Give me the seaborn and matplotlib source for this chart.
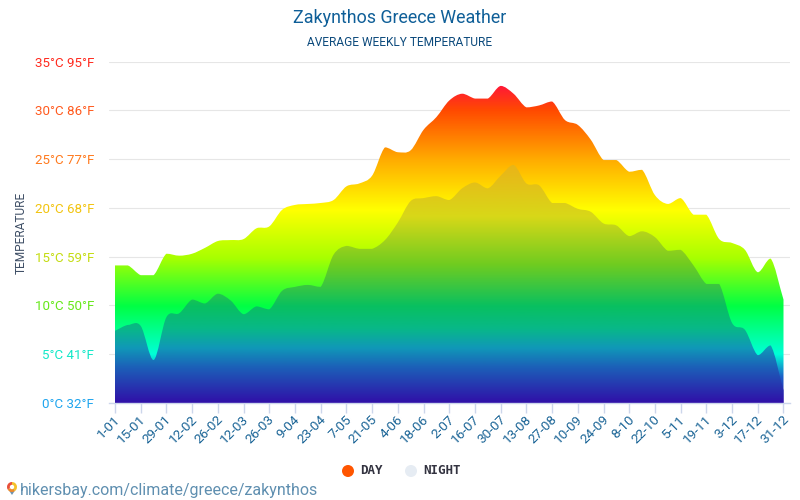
import numpy as np
import pandas as pd
import matplotlib
matplotlib.use("Agg")
import matplotlib.pyplot as plt
import seaborn as sns
from matplotlib.colors import LinearSegmentedColormap
from matplotlib.path import Path
from matplotlib.patches import PathPatch, Circle, Polygon, Wedge
from matplotlib.transforms import ScaledTranslation

tick_labels = ['1-01', '15-01', '29-01', '12-02', '26-02', '12-03', '26-03', '9-04', '23-04',
               '7-05', '21-05', '4-06', '18-06', '2-07', '16-07', '30-07', '13-08', '27-08',
               '10-09', '24-09', '8-10', '22-10', '5-11', '19-11', '3-12', '17-12', '31-12']
day_temp = [14.1, 14.1, 13.1, 13.1, 15.3, 15.1, 15.3, 15.9, 16.6, 16.7, 16.8, 17.9, 18.1,
            19.8, 20.3, 20.4, 20.5, 20.8, 22.2, 22.5, 23.3, 26.2, 25.7, 25.9, 28.0, 29.3,
            31.0, 31.7, 31.2, 31.2, 32.5, 31.7, 30.3, 30.5, 30.9, 29.0, 28.5, 27.0, 24.9,
            24.9, 23.7, 23.9, 21.3, 20.4, 21.0, 19.3, 19.3, 16.8, 16.4, 15.7, 13.4, 14.8, 10.6]
night_temp = [7.4, 8.0, 7.9, 4.4, 8.8, 9.2, 10.6, 10.2, 11.2, 10.5, 9.1, 9.9, 9.6,
              11.5, 11.9, 12.1, 11.9, 15.2, 16.1, 15.8, 15.8, 16.7, 18.5, 20.7, 21.0, 21.2,
              20.8, 22.0, 22.6, 22.0, 23.3, 24.4, 22.5, 22.3, 20.5, 20.5, 19.9, 19.6, 18.4,
              18.2, 17.1, 17.6, 17.0, 15.6, 15.7, 14.1, 12.2, 12.2, 8.2, 7.5, 4.9, 5.9, 1.3]
y_ticks = [0, 5, 10, 15, 20, 25, 30, 35]
y_labels = ['0°C 32°F', '5°C 41°F', '10°C 50°F', '15°C 59°F', '20°C 68°F', '25°C 77°F', '30°C 86°F', '35°C 95°F']
y_colors = ['#1fa5ee', '#12e8c8', '#66e81a', '#c4dc10', '#f2c410', '#ff7a1e', '#ff5a1e', '#ff2a1e']

day_colors = [(0.0, '#3010a8'), (0.08, '#1c60c8'), (0.15, '#00ffd8'), (0.30, '#00ff44'),
              (0.45, '#a8ff00'), (0.60, '#ffff00'), (0.76, '#ffaa00'), (0.91, '#ff4a00'), (1.0, '#ff1040')]
night_colors = [(0.0, '#3010a8'), (0.11, '#1c60b8'), (0.17, '#1098b8'), (0.23, '#08b888'), (0.30, '#08c060'),
                (0.43, '#70cc20'), (0.58, '#d8d818'), (0.72, '#e8b818'), (1.0, '#e8a018')]

sns.set_theme(style="white")
plt.rcParams['font.family'] = ['Roboto', 'DejaVu Sans']

df = pd.DataFrame({'week': np.arange(len(day_temp)), 'day': day_temp, 'night': night_temp})

fig = plt.figure(figsize=(8, 5), dpi=100)
ax = fig.add_axes([109 / 800, 1 - 403 / 500, 681 / 800, 341.5 / 500])

# seaborn draws the weekly points, the smooth area goes on top of them
sns.lineplot(data=df, x='week', y='day', ax=ax, lw=0, legend=False)
sns.lineplot(data=df, x='week', y='night', ax=ax, lw=0, legend=False)


def smooth_path(x, y):
    # bezier through the points, closed down to zero
    x = np.asarray(x, float)
    y = np.asarray(y, float)
    slope = np.gradient(y, x)
    verts = [(x[0], 0), (x[0], y[0])]
    codes = [Path.MOVETO, Path.LINETO]
    for i in range(len(x) - 1):
        h = (x[i + 1] - x[i]) / 3
        s = (y[i + 1] - y[i]) / (x[i + 1] - x[i])
        m0 = 0 if (i > 0 and slope[i] * s <= 0) else slope[i]
        m1 = 0 if (i < len(x) - 2 and slope[i + 1] * s <= 0) else slope[i + 1]
        verts += [(x[i] + h, y[i] + m0 * h), (x[i + 1] - h, y[i + 1] - m1 * h), (x[i + 1], y[i + 1])]
        codes += [Path.CURVE4] * 3
    verts += [(x[-1], 0), (x[0], 0)]
    codes += [Path.LINETO, Path.CLOSEPOLY]
    return Path(verts, codes)


def gradient_area(values, colors):
    cmap = LinearSegmentedColormap.from_list('temp', colors)
    top = 33
    grad = np.linspace(1, 0, 512).reshape(-1, 1)
    im = ax.imshow(grad, cmap=cmap, extent=(0, len(values) - 1, 0, top), aspect='auto', zorder=2, interpolation='bilinear')
    patch = PathPatch(smooth_path(df['week'], values), transform=ax.transData, fc='none', ec='none')
    ax.add_patch(patch)
    im.set_clip_path(patch)


gradient_area(df['day'], day_colors)
gradient_area(df['night'], night_colors)

# 12.85 px per week, plot area starts 6 px left of the first point
ax.set_xlim(-6 / 12.855, 52 + 6.5 / 12.855)
ax.set_ylim(0, 35)
ax.set_xlabel('')
ax.set_ylabel('')

for s in ['top', 'left', 'right']:
    ax.spines[s].set_visible(False)
ax.spines['bottom'].set_color('#ccd6eb')
ax.spines['bottom'].set_linewidth(1)
ax.set_axisbelow(True)
ax.yaxis.grid(True, color='#e6e6e6', lw=0.8)
ax.xaxis.grid(False)

ax.set_yticks(y_ticks)
ax.set_yticklabels(y_labels, fontsize=9.6)
for t, c in zip(ax.get_yticklabels(), y_colors):
    t.set_color(c)
ax.tick_params(axis='y', length=0, pad=10.8)

ax.set_xticks(np.arange(len(tick_labels)) * 2)
ax.set_xticklabels(tick_labels, rotation=45, ha='right', va='center', rotation_mode='anchor', fontsize=9.7, color='#1a6496')
ax.tick_params(axis='x', length=7, width=1, color='#ccd6eb', pad=3.5, bottom=True)
shift = ScaledTranslation(3 / 100, 0, fig.dpi_scale_trans)
for t in ax.get_xticklabels():
    t.set_transform(t.get_transform() + shift)

fig.text(400 / 800, 1 - 18 / 500, 'Zakynthos Greece Weather', ha='center', va='center', fontsize=12.9, color='#0f5f98')
fig.text(400 / 800, 1 - 42 / 500, 'AVERAGE WEEKLY TEMPERATURE', ha='center', va='center', fontsize=8.6, color='#0c4a7c')
fig.text(21 / 800, 1 - 233 / 500, 'TEMPERATURE', rotation=90, ha='center', va='center', fontsize=8.6, color='#3f4f66')

# legend
fig.add_artist(Circle((3.48, 0.29), 0.06, transform=fig.dpi_scale_trans, color='#ff5500', lw=0))
fig.add_artist(Circle((4.11, 0.29), 0.06, transform=fig.dpi_scale_trans, color='#e6ecf3', lw=0))
fig.text(360.5 / 800, 1 - 471 / 500, 'DAY', ha='left', va='center', fontsize=9, fontweight='bold', family='DejaVu Sans Mono', color='#333340')
fig.text(423 / 800, 1 - 471 / 500, 'NIGHT', ha='left', va='center', fontsize=9, fontweight='bold', family='DejaVu Sans Mono', color='#333340')

# footer with the map pin
pin_xy = (0.12, 0.13)
fig.add_artist(Polygon([(0.08, 0.11), (0.16, 0.11), (0.12, 0.05)], transform=fig.dpi_scale_trans, color='#6f93ad', lw=0))
fig.add_artist(Wedge(pin_xy, 0.05, -60, 90, transform=fig.dpi_scale_trans, color='#f5c02a', lw=0))
fig.add_artist(Wedge(pin_xy, 0.05, 90, 210, transform=fig.dpi_scale_trans, color='#e8503a', lw=0))
fig.add_artist(Wedge(pin_xy, 0.05, 210, 300, transform=fig.dpi_scale_trans, color='#f08a2a', lw=0))
fig.add_artist(Circle(pin_xy, 0.022, transform=fig.dpi_scale_trans, color='white', lw=0))
fig.text(20 / 800, 1 - 490 / 500, 'hikersbay.com/climate/greece/zakynthos', ha='left', va='center', fontsize=11.5, color='#5f8fb0')

fig.savefig('out.png', dpi=100)
